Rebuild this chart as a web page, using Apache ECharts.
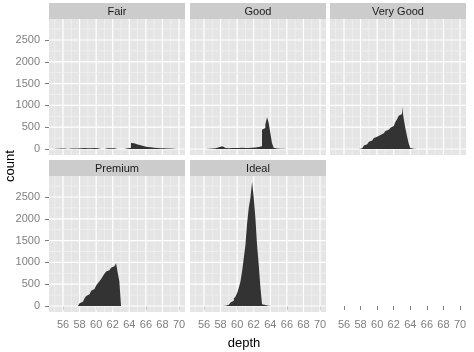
<!DOCTYPE html>
<html>
<head>
<meta charset="utf-8">
<script src="https://cdn.jsdelivr.net/npm/echarts@6/dist/echarts.min.js"></script>
<style>
  html, body { margin: 0; padding: 0; background: #fff; }
  #chart { width: 474px; height: 352px; }
</style>
</head>
<body>
<div id="chart"></div>
<script>
// histogram of depth by cut, bins of 0.2 starting at 55
const cuts = ['Fair', 'Good', 'Very Good', 'Premium', 'Ideal'];
const binStart = 55;
const binWidth = 0.2;

const fairCounts = [
  5, 8, 6, 10, 8, 12, 10, 0, 14, 12, 15, 10, 18, 12, 0,
  15, 18, 20, 0, 15, 20, 18, 15, 22, 0, 15, 18, 0, 0, 0,
  12, 15, 18, 15, 10, 15, 0, 0, 12, 0, 0, 0, 10, 15, 20,
  25, 140, 130, 120, 105, 95, 85, 75, 65, 55, 48, 42, 38, 32, 28,
  25, 22, 20, 18, 15, 14, 12, 11, 10, 9, 8, 7, 6, 5, 4
];
const goodCounts = [
  0, 0, 0, 0, 0, 0, 0, 5, 8, 10, 12, 15, 20, 40, 80,
  60, 35, 25, 20, 18, 18, 20, 22, 20, 18, 22, 25, 30, 28, 25,
  22, 25, 28, 30, 32, 35, 40, 45, 50, 60, 440, 480, 560, 730, 600,
  370, 140, 30, 10, 8, 6, 5, 4, 3, 2, 0, 0, 0, 0, 0,
  0, 0, 0, 0, 0, 0, 0, 0, 0, 0, 0, 0, 0, 0, 0
];
const veryGoodCounts = [
  0, 0, 0, 0, 0, 0, 0, 0, 0, 0, 0, 0, 0, 0, 5,
  15, 40, 80, 110, 140, 165, 195, 220, 250, 280, 300, 320, 340, 360, 385,
  410, 440, 465, 490, 530, 570, 620, 680, 760, 800, 970, 700, 480, 300, 130,
  20, 5, 0, 0, 0, 0, 0, 0, 0, 0, 0, 0, 0, 0, 0,
  0, 0, 0, 0, 0, 0, 0, 0, 0, 0, 0, 0, 0, 0, 0
];
const premiumCounts = [
  0, 0, 0, 0, 0, 0, 0, 0, 0, 0, 0, 0, 0, 0, 20,
  60, 100, 140, 180, 230, 270, 310, 350, 390, 430, 470, 520, 570, 620, 680,
  740, 790, 820, 850, 880, 910, 950, 980, 760, 560, 0, 0, 0, 0, 0,
  0, 0, 0, 0, 0, 0, 0, 0, 0, 0, 0, 0, 0, 0, 0,
  0, 0, 0, 0, 0, 0, 0, 0, 0, 0, 0, 0, 0, 0, 0
];
const idealCounts = [
  0, 0, 0, 0, 0, 0, 0, 0, 0, 0, 0, 0, 0, 0, 0,
  0, 0, 5, 15, 30, 50, 80, 120, 170, 220, 300, 420, 560, 800, 1100,
  1400, 1900, 2250, 2480, 2845, 2480, 2020, 1400, 950, 440, 40, 25, 15, 8, 3,
  0, 0, 0, 0, 0, 0, 0, 0, 0, 0, 0, 0, 0, 0, 0,
  0, 0, 0, 0, 0, 0, 0, 0, 0, 0, 0, 0, 0, 0, 0
];
const countsByCut = [fairCounts, goodCounts, veryGoodCounts, premiumCounts, idealCounts];

const xBreaks = [56, 58, 60, 62, 64, 66, 68, 70];
const xMinor = [55, 57, 59, 61, 63, 65, 67, 69];
const yBreaks = [0, 500, 1000, 1500, 2000, 2500];
const yMinor = [250, 750, 1250, 1750, 2250, 2750];

const myChart = echarts.init(document.getElementById('chart'));
const font = 'Liberation Sans, Arial, Helvetica, sans-serif';
const grey50 = '#7f7f7f';

// panel boxes (left, top) in px, 136 x 136 each; last one is the empty cell
const panels = [[49, 19], [190, 19], [330, 19], [49, 176], [190, 176], [330, 176]];
const panelSize = 136;

const grids = [], xAxes = [], yAxes = [], series = [], graphics = [];

const gridLineData = [].concat(
  xBreaks.map(v => [0, v, 1]),
  xMinor.map(v => [0, v, 0]),
  yBreaks.map(v => [1, v, 1]),
  yMinor.map(v => [1, v, 0])
);

function renderGridLine (params, api) {
  const cs = params.coordSys;
  const v = api.value(1);
  const major = api.value(2) === 1;
  let shape;
  if (api.value(0) === 0) {
    const px = api.coord([v, 0])[0];
    shape = { x1: px, y1: cs.y, x2: px, y2: cs.y + cs.height };
  } else {
    const py = api.coord([60, v])[1];
    shape = { x1: cs.x, y1: py, x2: cs.x + cs.width, y2: py };
  }
  return {
    type: 'line',
    shape: shape,
    style: { stroke: major ? '#ffffff' : '#f2f2f2', lineWidth: major ? 1.2 : 0.7 }
  };
}

panels.forEach(function (p, i) {
  const isEmpty = i === 5;
  const leftCol = p[0] === 49;
  // x labels on the bottom row (the empty cell carries Very Good's axis)
  const showX = i >= 3;
  grids.push({
    left: p[0], top: p[1], width: panelSize, height: panelSize,
    show: !isEmpty, backgroundColor: '#e5e5e5', borderWidth: 0
  });
  xAxes.push({
    type: 'value', gridIndex: i, min: 54.31, max: 70.72,
    axisLine: { show: false },
    splitLine: { show: false },
    axisTick: { show: showX, length: 4, customValues: xBreaks, lineStyle: { color: grey50 } },
    axisLabel: {
      show: showX, customValues: xBreaks, margin: 7,
      color: grey50, fontSize: 11, fontFamily: font
    }
  });
  yAxes.push({
    type: 'value', gridIndex: i, min: -138, max: 2982,
    show: !isEmpty,
    axisLine: { show: false },
    splitLine: { show: false },
    axisTick: { show: leftCol, length: 4, customValues: yBreaks, lineStyle: { color: grey50 } },
    axisLabel: {
      show: leftCol, customValues: yBreaks, margin: 9,
      color: grey50, fontSize: 11, fontFamily: font,
      formatter: function (v) { return String(v) }
    }
  });
  if (isEmpty) {
    series.push({ type: 'line', xAxisIndex: i, yAxisIndex: i, data: [] });
    return;
  }
  series.push({
    type: 'custom', xAxisIndex: i, yAxisIndex: i, z: 1, silent: true,
    renderItem: renderGridLine, data: gridLineData
  });
  const counts = countsByCut[i];
  const stepData = counts.map(function (c, k) { return [binStart + k * binWidth, c] });
  stepData.push([binStart + counts.length * binWidth, 0]);
  series.push({
    type: 'line', xAxisIndex: i, yAxisIndex: i, z: 3, silent: true,
    step: 'end', symbol: 'none', data: stepData,
    lineStyle: { width: 0 },
    areaStyle: { color: '#333333', opacity: 1 }
  });
  // facet strip
  const stripTop = p[1] - 16;
  graphics.push({
    type: 'rect', left: p[0], top: stripTop,
    shape: { width: panelSize, height: 16 },
    style: { fill: '#cccccc' }
  });
  graphics.push({
    type: 'text', x: p[0] + panelSize / 2, y: stripTop + 8.5,
    style: {
      text: cuts[i], fill: '#1a1a1a', font: '11px ' + font,
      align: 'center', verticalAlign: 'middle'
    }
  });
});

graphics.push({
  type: 'text', x: 244, y: 343,
  style: { text: 'depth', fill: '#000', font: '13px ' + font, align: 'center', verticalAlign: 'middle' }
});
graphics.push({
  type: 'text', x: 10, y: 166, rotation: Math.PI / 2,
  style: { text: 'count', fill: '#000', font: '13px ' + font, align: 'center', verticalAlign: 'middle' }
});

const option = {
  backgroundColor: '#ffffff',
  animation: false,
  grid: grids,
  xAxis: xAxes,
  yAxis: yAxes,
  series: series,
  graphic: graphics
};
myChart.setOption(option, true);
</script>
</body>
</html>
